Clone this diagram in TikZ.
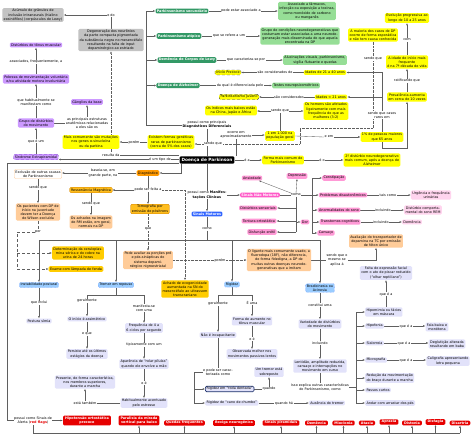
\documentclass[tikz,border=0pt]{standalone}
\usepackage{fontspec}
\setmainfont{DejaVu Sans}
\usetikzlibrary{arrows.meta,backgrounds}
\pgfdeclarelayer{bgfill}
\pgfsetlayers{bgfill,background,main}
\newcommand\cmfs{\fontsize{3.4}{4.15}\selectfont}
\definecolor{cgray}{RGB}{195,195,195}
\definecolor{cpurple}{RGB}{204,153,255}
\definecolor{cpurd}{RGB}{120,60,200}
\definecolor{cdgreen}{RGB}{51,153,102}
\definecolor{clgreen}{RGB}{150,222,150}
\definecolor{cyellow}{RGB}{255,255,0}
\definecolor{corange}{RGB}{255,153,0}
\definecolor{camber}{RGB}{255,190,30}
\definecolor{cgold}{RGB}{255,204,0}
\definecolor{cpeach}{RGB}{255,204,153}
\definecolor{cmagenta}{RGB}{255,90,200}
\definecolor{cpink}{RGB}{255,153,214}
\definecolor{clpink}{RGB}{255,212,238}
\definecolor{cblue}{RGB}{51,102,255}
\definecolor{clblue}{RGB}{153,204,255}
\definecolor{clav}{RGB}{226,226,250}
\definecolor{cred}{RGB}{230,0,0}
\definecolor{cline}{RGB}{95,95,95}
\begin{document}
\begin{tikzpicture}[x=1pt,y=-1pt,
 nd/.style={rounded corners=1.3pt, inner xsep=1.3pt, inner ysep=1.1pt, align=center, font=\cmfs},
 lbl/.style={fill=white, inner sep=0.4pt, align=center, font=\cmfs},
 gr/.style={nd, fill=cgray},
 pu/.style={nd, fill=cpurple},
 pud/.style={pu, draw=cpurd, densely dashed, line width=0.3pt},
 dg/.style={nd, fill=cdgreen, text=white, font=\cmfs\bfseries},
 lg/.style={nd, fill=clgreen},
 ye/.style={nd, fill=cyellow},
 yed/.style={ye, draw=black!75, densely dashed, line width=0.3pt},
 blk/.style={nd, fill=black, text=white, font=\fontsize{4.3}{5}\selectfont\bfseries, inner xsep=2pt, inner ysep=1.6pt},
 or1/.style={nd, fill=corange},
 or2/.style={nd, fill=camber, draw=corange!80!black, line width=0.25pt},
 go/.style={nd, fill=cgold},
 pe/.style={nd, fill=cpeach},
 wh/.style={nd, fill=white, draw=cpeach, line width=0.3pt},
 pm/.style={nd, fill=cmagenta, text=white, font=\cmfs\bfseries},
 pk/.style={nd, fill=cpink},
 lp/.style={nd, fill=clpink},
 bm/.style={nd, fill=cblue, text=white, font=\cmfs\bfseries},
 lb/.style={nd, fill=clblue, draw=cblue!80, densely dotted, line width=0.35pt},
 lv/.style={nd, fill=clav},
 lvb/.style={nd, fill=clav, draw=cblue!40!black, line width=0.6pt},
 rd/.style={nd, fill=cred, text=white, font=\cmfs\bfseries, inner xsep=2pt},
 cnx/.style={draw=cline, line width=0.35pt},
 arw/.style={cnx, -{Latex[length=2.2pt,width=1.8pt]}},
]
\useasboundingbox (0,0) rectangle (474,436);
\begin{pgfonlayer}{bgfill}
\fill[white] (0,0) rectangle (474,436);
\end{pgfonlayer}

% ---------- top left ----------
\node[gr] (acum) at (33,15) {Acúmulo de grânulos de\\inclusão intraneurais (hialino\\eosinófilos) (corpúsculos de Lewy)};
\node[gr] (deg) at (111,40) {Degeneração dos neurônios\\da parte compacta pigmentada\\da substância negra no mesencéfalo\\resultando na falta de input\\dopaminérgico ao estriado};
\node[lbl] (l_edo) at (111,15) {e do};
\node[pu] (tonus) at (36,45) {Distúrbios do tônus muscular};
\node[lbl] (l_assoc) at (36,62) {associados, frequentemente, a};
\node[pu] (pobreza) at (36,79) {Pobreza de movimentação voluntária\\e/ou atividade motora involuntária};
\node[lbl] (l_habit) at (36,102) {que habitualmente se\\manifestam como};
\node[pu] (ganglios) at (87,102) {Gânglios da base};
\node[pu] (grupo) at (36,123) {Grupo de distúrbios\\do movimento};
\node[lbl] (l_estrut) at (87,123) {as principais estruturas\\anatômicas relacionadas\\a eles são os};
\node[lbl] (l_queeum) at (36,141) {que é um};
\node[pud] (sindrome) at (36,157) {Síndrome Extrapiramidal};
\node[ye] (mutacoes) at (91,142) {Mais comumente são mutações\\nos genes α-sinucleína\\ou da parkina};
\node[lbl] (l_porem1) at (134,142) {porém};
\node[ye] (formas) at (171,142) {Existem formas genéticas\\raras de parkinsonismo\\(cerca de 5\% dos casos)};
\node[lbl] (l_resulta) at (111,155) {resulta da};
\node[lbl] (l_etipo) at (160,159.5) {é um tipo de};

% ---------- green column ----------
\node[dg] (psec) at (182,11) {Parkinsonismo secundário};
\node[lbl] (l_psec) at (241,11) {pode estar associado a};
\node[lg] (psec2) at (307,11) {Associado a fármacos,\\infecção ou exposição a toxinas,\\como monóxido de carbono\\ou manganês};
\node[dg] (patip) at (179,36) {Parkinsonismo atípico};
\node[lbl] (l_patip) at (229,36) {que se refere a um};
\node[lg] (patip2) at (300,36) {Grupo de condições neurodegenerativas que\\costumam estar associadas a uma neurode-\\generação mais disseminada do que aquela\\encontrada na DP};
\node[dg] (dcl) at (187,60) {Demência de Corpos de Lewy};
\node[lbl] (l_dcl) at (246,60) {que caracteriza-se por};
\node[lg] (dcl2) at (315,60) {Alucinações visuais, parkinsonismo,\\vigília flutuante e quedas};
\node[yed] (precoce) at (228,72.5) {Início Precoce};
\node[lbl] (l_prec) at (275,72.5) {são considerados de};
\node[ye] (id2140) at (325,72.5) {Idades de 21 a 40 anos};
\node[dg] (alz) at (178,85.5) {Doença de Alzheimer};
\node[lbl] (l_alz) at (240,85.5) {da qual é diferenciada pelo};
\node[lg] (alz2) at (296,85.5) {Testes neuropsicométricos};
\node[yed] (juvenil) at (239,97) {Parkinsonismo Juvenil};
\node[lbl] (l_juv) at (289,97) {são considerados};
\node[ye] (id21) at (331,97) {Idades < 21 anos};

% ---------- right top ----------
\node[ye] (evol) at (407,18) {Evolução progressiva ao\\longo de 10 a 25 anos};
\node[lbl] (l_com) at (407,40) {com};
\node[ye] (idade) at (407,62) {A idade de início mais\\frequente\\é na 7ª década de vida};
\node[lbl] (l_ratif) at (407,81) {ratificando que};
\node[ye] (preval) at (407,97) {Prevalência aumenta\\em cerca de 10 vezes};
\node[ye] (maioria) at (373,35) {A maioria dos casos de DP\\ocorre de forma esporádica\\e não tem causa conhecida};
\node[lbl] (l_sq1) at (373,59) {sendo que};
\node[lbl] (l_raros) at (382,115) {sendo que casos\\raros em};
\node[ye] (indices) at (231,110.5) {Os índices mais baixos estão\\na China, Japão e África};
\node[lbl] (l_sq2) at (280,111) {sendo que};
\node[ye] (homens) at (326,111) {Os homens são afetados\\ligeiramente com mais\\frequência do que as\\mulheres (3:2)};
\node[ye] (um1000) at (280,136) {1 em 1.000 na\\população geral};
\node[lbl] (l_ocorre) at (236,135) {ocorre em\\aproximadamente};
\node[lbl] (l_sq3) at (213,144) {sendo que};
\node[lbl] (l_eem) at (329,137) {e em};
\node[ye] (pct) at (382,137) {1\% de pessoas maiores\\que 65 anos};
\node[lbl] (l_diagdif) at (207,125) {possui como principais\\\textbf{Diagnósticos Diferenciais}};
\node[blk] (dp) at (207,160) {Doença de Parkinson};
\node[lbl] (l_ea) at (247,160) {é a};
\node[ye] (forma) at (283,160) {Forma mais comum de\\Parkinsonismo};
\node[lbl] (l_eo) at (322,160) {é o};
\node[ye] (seg) at (372,160) {2º distúrbio neurodegenerativo\\mais comum, após a doença de\\Alzheimer};

% ---------- diagnosis ----------
\node[or1] (diag) at (148,173) {Diagnóstico};
\node[lbl] (l_baseia) at (103,173) {baseia-se, em\\grande parte, na};
\node[wh] (exclusao) at (38,174) {Exclusão de outras causas\\de Parkinsonismo};
\node[lbl] (l_sq4) at (38,188) {sendo que};
\node[pe] (pacientes) at (38,212) {Os pacientes com DP de\\início na juventude\\devem ter a Doença\\de Wilson excluída};
\node[lbl] (l_por) at (38,232) {por};
\node[go] (ceru) at (78,253) {Determinação da ceruloplas-\\mina sérica e do cobre na\\urina de 24 horas};
\node[go] (lampada) at (76,269) {Exame com lâmpada de fenda};
\node[or2] (rm) at (91,190) {Ressonância Magnética};
\node[lbl] (l_pode) at (148,190) {pode ser feita a};
\node[lbl] (l_sq5) at (91,204) {sendo que};
\node[pe] (achados) at (91,222) {Os achados na imagem\\de RM estão, em geral,\\normais na DP};
\node[or2] (tomo) at (150,209) {Tomografia por\\emissão de pósitrons};
\node[lbl] (l_que) at (148,229) {que};
\node[pe] (avaliar) at (148,260) {Pode avaliar as porções pré\\e pós-sinápticas do\\sistema dopami-\\nérgico nigroestriatal};
\node[lbl] (l_porem2) at (220,260) {porém};
\node[pe] (ligante) at (279,260) {O ligante mais comumente usado, a\\fluorodopa (18F), não diferencia,\\de forma fidedigna, a DP de\\muitas outras doenças neurode-\\generativas que a imitam};
\node[lbl] (l_mesmo) at (337,260) {sendo que o\\mesmo se\\aplica à};
\node[pe] (spect) at (376,241) {Avaliação do transportador de\\dopamina na TC por emissão\\de fóton único};
\node[go] (eco) at (185,289) {Achado de ecogenicidade\\aumentada na SN do\\mesencéfalo ao ultrassom\\transcraniano};

% ---------- clinical ----------
\node[lbl] (l_manif) at (207,195) {possui como \textbf{Manifes-}\\\textbf{tações Clínicas}};
\node[pm] (pnm) at (260,195) {Sinais Não Motores};
\node[bm] (sm) at (207,214) {Sinais Motores};
\node[lbl] (l_como1) at (296,195) {como};
\node[pk] (ansiedade) at (252,178) {Ansiedade};
\node[pk] (depressao) at (297,176) {Depressão};
\node[pk] (sensoriais) at (258,208) {Distúrbios sensoriais};
\node[pk] (tontura) at (259,221) {Tontura ortostática};
\node[pk] (disfuncao) at (262,232) {Disfunção erétil};
\node[pk] (dor) at (305,222) {Dor};
\node[pk] (constip) at (334,178) {Constipação};
\node[pk] (disauto) at (343,195) {Problemas disautonômicos};
\node[lbl] (l_tais) at (388,195) {tais como};
\node[lp] (urg) at (431,195) {Urgência e frequência\\urinárias};
\node[pk] (sono) at (339,210) {Anormalidades do sono};
\node[lbl] (l_incl1) at (383,210) {incluindo};
\node[lp] (rem) at (423,210) {Distúrbio comporta-\\mental do sono REM};
\node[pk] (cogn) at (340,222) {Transtornos cognitivos};
\node[lbl] (l_incl2) at (381,222) {incluindo};
\node[lp] (dem) at (412,222) {Demência};
\node[pk] (cansaco) at (326,233) {Cansaço};

\node[lbl] (l_como2) at (207,229) {como};
\node[lb] (inst) at (39,285) {Instabilidade postural};
\node[lb] (tremor) at (116,285) {Tremor em repouso};
\node[lb] (rig) at (232,284.5) {Rigidez};
\node[lb] (brad) at (320,288) {Bradicinesia ou\\Acinesia};

\node[lbl] (l_inclui) at (39,303) {que inclui};
\node[lv] (simia) at (39,321) {Postura símia};

\node[lbl] (l_geral1) at (87,301) {geralmente};
\node[lv] (assim) at (87,319) {O início é assimétrico};
\node[lbl] (l_manif2) at (144,308) {manifesta-se\\com uma};
\node[lv] (freq) at (144,328) {Frequência de 4 a\\6 ciclos por segundo};
\node[lbl] (l_eque) at (87,334) {e que};
\node[lv] (persiste) at (87,354) {Persiste até os últimos\\estágios da doença};
\node[lbl] (l_tipic) at (144,345) {tipicamente com um};
\node[lv] (rolar) at (144,364) {Aparência de “rolar pílulas”\\quando ele envolve a mão};
\node[lbl] (l_ee) at (144,383) {e é};
\node[lv] (habit) at (144,403) {Habitualmente acentuado\\pelo estresse};
\node[lbl] (l_tamb) at (85,403) {está também};
\node[lv] (presente) at (85,382) {Presente, de forma característica,\\nos membros superiores,\\durante a marcha};

\node[lbl] (l_geral2) at (218,304) {geralmente};
\node[lv] (incap) at (218,335) {Não é incapacitante};
\node[lbl] (l_euma) at (252,303) {É uma};
\node[lv] (tonus2) at (252,321) {Forma de aumento no\\tônus muscular};
\node[lbl] (l_ee2) at (252,339) {e é};
\node[lv] (observ) at (252,354) {Observada melhor nos\\movimentos passivos lentos};
\node[lbl] (l_carac) at (218,372) {e pode ser carac-\\terizada como};
\node[lvb, anchor=west] (dentada) at (205,389) {Rigidez em “roda dentada”};
\node[lv, anchor=west] (chumbo) at (205,403) {Rigidez de “cano de chumbo”};
\node[lbl] (l_quando) at (269,389) {quando};
\node[lv] (sobrep) at (269,372) {Um tremor está\\sobreposto};
\node[lbl] (l_quandoha) at (284,403) {quando há};
\node[lv] (ausencia) at (327,403) {Ausência do tremor};

\node[lbl] (l_const) at (320,305) {constitui uma};
\node[lv] (variedade) at (320,324) {Variedade de distúrbios\\do movimento};
\node[lbl] (l_incl3) at (320,343) {incluindo};
\node[lv] (lentidao) at (320,366) {Lentidão, amplitude reduzida,\\cansaço e interrupções no\\movimento em curso};
\node[lbl] (l_isso) at (320,387) {Isso explica outras características\\do Parkinsonismo, como};

\node[lv, anchor=west] (hipom) at (365,312) {Hipomimia ou fácies\\em máscara};
\node[lbl] (l_quea1) at (386,294) {que é a};
\node[lv] (falta) at (386,273) {Falta de expressão facial\\com o ato de piscar reduzido\\(“olhar reptiliano”)};
\node[lv, anchor=west] (hipof) at (365,326) {Hipofonia};
\node[lbl] (l_quea2) at (406,326) {que é a};
\node[lv] (fala) at (437,327) {Fala baixa e\\monótona};
\node[lv, anchor=west] (sial) at (365,343) {Sialorreia};
\node[lbl] (l_quea3) at (404,343) {que é a};
\node[lv] (deglut) at (447,344) {Deglutição alterada\\resultando em baba};
\node[lv, anchor=west] (micro) at (365,360) {Micrografia};
\node[lbl] (l_quea4) at (406,360) {que é a};
\node[lv] (calig) at (448,361) {Caligrafia apresentando\\letra pequena};
\node[lv, anchor=west] (reducao) at (365,378) {Redução da movimentação\\do braço durante a marcha};
\node[lv, anchor=west] (passos) at (365,390) {Passos curtos};
\node[lv, anchor=west] (andar) at (365,403) {Andar com arrastar dos pés};

% ---------- red flags ----------
\node[lbl] (l_alerta) at (33,420.5) {possui como Sinais de\\Alerta (\textcolor{cred}{\textbf{red flags}})};
\node[rd] (red1) at (87,420.5) {Hipotensão ortostática\\precoce};
\node[rd] (red2) at (139,420.5) {Paralisia da mirada\\vertical para baixo};
\node[rd] (red3) at (184.5,423) {Quedas frequentes};
\node[rd] (red4) at (234,423) {Bexiga neurogênica};
\node[rd] (red5) at (281,423) {Sinais piramidais};
\node[rd] (red6) at (316.5,423) {Demência};
\node[rd] (red7) at (343.5,423) {Mioclonia};
\node[rd] (red8) at (367,423) {Ataxia};
\node[rd] (red9) at (389,422) {Apraxia};
\node[rd] (red10) at (412,423) {Distonia};
\node[rd] (red11) at (435.5,422) {Disfagia};
\node[rd] (red12) at (460,423) {Disartria};

% ================= connectors =================
\begin{scope}[on background layer]
\draw[cnx] (deg.north) -- (l_edo.south);
\draw[arw] (l_edo.west) -- (l_edo.west -| acum.east);
\draw[cnx] (l_resulta.east) -- (l_resulta.east -| dp.west);
\draw[arw, densely dotted] (l_resulta.north) -- (deg.south);
\draw[cnx] (l_etipo.east) -- (l_etipo.east -| dp.west);
\draw[arw] (l_etipo.west) -- (l_etipo.west -| sindrome.east);
\draw[cnx] (sindrome.north) -- (l_queeum.south);
\draw[arw] (l_queeum.north) -- (grupo.south);
\draw[cnx] (grupo.east) -- (l_estrut.west);
\draw[arw] (l_estrut.north) -- (ganglios.south);
\draw[cnx] (grupo.north) -- (l_habit.south);
\draw[arw] (l_habit.north) -- (pobreza.south);
\draw[cnx] (pobreza.north) -- (l_assoc.south);
\draw[arw] (l_assoc.north) -- (tonus.south);
\draw[cnx] (formas.west) -- (l_porem1.east);
\draw[arw] (l_porem1.west) -- (l_porem1.west -| mutacoes.east);

\coordinate (tk) at (146,125);
\draw[cnx] (dp.north) -- (l_diagdif.south);
\draw[cnx] (l_diagdif.west) -- (tk) -- (tk |- psec.west);
\foreach \n in {psec,patip,dcl,alz} \draw[arw] (tk |- \n.west) -- (\n.west);
\draw[cnx] (psec.east) -- (l_psec.west);
\draw[arw] (l_psec.east) -- (l_psec.east -| psec2.west);
\draw[cnx] (patip.east) -- (l_patip.west);
\draw[arw] (l_patip.east) -- (l_patip.east -| patip2.west);
\draw[cnx] (dcl.east) -- (l_dcl.west);
\draw[arw] (l_dcl.east) -- (l_dcl.east -| dcl2.west);
\draw[cnx] (alz.east) -- (l_alz.west);
\draw[arw] (l_alz.east) -- (l_alz.east -| alz2.west);
\draw[cnx] (id2140.west) -- (l_prec.east);
\draw[arw] (l_prec.west) -- (l_prec.west -| precoce.east);
\draw[cnx] (id21.west) -- (l_juv.east);
\draw[arw] (l_juv.west) -- (l_juv.west -| juvenil.east);

\draw[cnx] (preval.north) -- (l_ratif.south);
\draw[arw] (l_ratif.north) -- (idade.south);
\draw[cnx] (idade.north) -- (l_com.south);
\draw[arw] (l_com.north) -- (evol.south);
% 1% -> sendo que casos raros em -> idades
\draw[cnx] (pct.north -| l_raros) -- (l_raros.south);
\draw[cnx] (l_raros.north) -- (l_raros.north |- id2140.east);
\draw[arw] (l_raros.north |- id2140.east) -- (id2140.east);
\draw[arw] (l_raros.north |- id21.east) -- (id21.east);
% maioria -> sendo que -> formas geneticas (dotted)
\coordinate (dq) at (373,128);
\coordinate (dr) at (300,128);
\coordinate (ds) at (300,144);
\draw[cnx, densely dotted] (maioria.south) -- (l_sq1.north);
\draw[cnx, densely dotted] (l_sq1.south) -- (dq) -- (dr) -- (ds) -- (l_sq3.east);
\draw[arw, densely dotted] (l_sq3.west) -- (l_sq3.west -| formas.east);
\draw[arw] (pct.south) -- ++(0,6) -| (preval.south);

\draw[cnx] (um1000.north) -- (l_sq2.south);
\draw[arw] (l_sq2.west) -- (l_sq2.west -| indices.east);
\draw[arw] (l_sq2.east) -- (l_sq2.east -| homens.west);
\draw[cnx] (um1000.east) -- (l_eem.west);
\draw[arw] (l_eem.east) -- (l_eem.east -| pct.west);
\draw[cnx] (l_ea.west -| dp.east) -- (l_ea.west);
\draw[arw] (l_ea.east) -- (l_ea.east -| forma.west);
\draw[cnx] (forma.east) -- (l_eo.west);
\draw[arw] (l_eo.east) -- (l_eo.east -| seg.west);
\draw[cnx] (dp.north -| l_ocorre) -- (l_ocorre.south);
\draw[arw] (l_ocorre.east) -- (l_ocorre.east -| um1000.west);

% diagnosis
\draw[arw] ([xshift=2pt]dp.south west) |- (diag.east);
\draw[cnx] (diag.west) -- (l_baseia.east);
\draw[arw] (l_baseia.west) -- (l_baseia.west -| exclusao.east);
\draw[cnx] (exclusao.south) -- (l_sq4.north);
\draw[arw] (l_sq4.south) -- (pacientes.north);
\coordinate (pl) at (17,232);
\draw[cnx, densely dashed] (pacientes.south) -- (l_por.north);
\draw[cnx, densely dashed] (l_por.west) -- (pl) -- (pl |- lampada.west);
\draw[arw, densely dashed] (pl |- ceru.west) -- (ceru.west);
\draw[arw, densely dashed] (pl |- lampada.west) -- (lampada.west);
\draw[cnx] (diag.south) -- (l_pode.north);
\draw[arw] (l_pode.west) -- (l_pode.west -| rm.east);
\draw[arw] (l_pode.south) -- (l_pode.south |- tomo.north);
\draw[arw, densely dotted] (l_pode.east) -| (eco.north);
\draw[cnx] (rm.south) -- (l_sq5.north);
\draw[arw] (l_sq5.south) -- (achados.north);
\draw[cnx, densely dotted] (tomo.south -| l_que) -- (l_que.north);
\draw[arw, densely dotted] (l_que.south) -- (l_que.south |- avaliar.north);
\draw[cnx, densely dotted] (avaliar.east) -- (l_porem2.west);
\draw[arw, densely dotted] (l_porem2.east) -- (l_porem2.east -| ligante.west);
\draw[cnx] (ligante.east) -- (l_mesmo.west);
\draw[arw] (l_mesmo.east) -| (spect.south);

% clinical
\draw[cnx] (dp.south) -- (l_manif.north);
\draw[arw] (l_manif.south) -- (sm.north);
\draw[arw] (l_manif.east) -- (l_manif.east -| pnm.west);
\draw[cnx] (pnm.east) -- (l_como1.west);
\draw[arw] (l_como1) -- (ansiedade);
\draw[arw] (l_como1.north) -- (depressao.south);
\draw[cnx] (l_como1.south) -- (l_como1.south |- disfuncao.east);
\foreach \n in {sensoriais,tontura,disfuncao} \draw[arw] (l_como1.south |- \n.east) -- (\n.east);
\draw[arw] (l_como1.south |- dor.west) -- (dor.west);
\coordinate (hb) at (312,195);
\draw[cnx] (l_como1.east) -- (hb);
\draw[cnx] (hb |- constip.west) -- (hb |- cansaco.west);
\foreach \n in {constip,disauto,sono,cogn,cansaco} \draw[arw] (hb |- \n.west) -- (\n.west);
\draw[cnx] (disauto.east) -- (l_tais.west);
\draw[arw] (l_tais.east) -- (l_tais.east -| urg.west);
\draw[cnx] (sono.east) -- (l_incl1.west);
\draw[arw] (l_incl1.east) -- (l_incl1.east -| rem.west);
\draw[cnx] (cogn.east) -- (l_incl2.west);
\draw[arw] (l_incl2.east) -- (l_incl2.east -| dem.west);

\coordinate (tr) at (207,240);
\draw[cnx] (sm.south) -- (l_como2.north);
\draw[cnx] (l_como2.south) -- (tr);
\draw[cnx] (tr -| inst.north) -- (tr -| brad.north);
\foreach \n in {inst,tremor,rig,brad} \draw[arw] (tr -| \n.north) -- (\n.north);
\draw[cnx] (inst.south) -- (l_inclui.north);
\draw[arw] (l_inclui.south) -- (simia.north);

\coordinate (tb) at (116,295);
\draw[cnx] (tremor.south) -- (tb);
\draw[cnx] (tb -| l_geral1) -- (tb -| l_manif2);
\draw[cnx] (tb -| l_geral1) -- (l_geral1.north);
\draw[arw] (l_geral1.south) -- (assim.north);
\draw[cnx] (tb -| l_manif2) -- (l_manif2.north);
\draw[arw] (l_manif2.south) -- (freq.north);
\draw[cnx] (assim.south) -- (l_eque.north);
\draw[arw] (l_eque.south) -- (persiste.north);
\draw[cnx] (freq.south) -- (l_tipic.north);
\draw[arw] (l_tipic.south) -- (rolar.north);
\draw[cnx] (rolar.south) -- (l_ee.north);
\draw[arw] (l_ee.south) -- (habit.north);
\draw[cnx] (habit.west) -- (l_tamb.east);
\draw[arw] (l_tamb.north) -- (presente.south);

\coordinate (rb) at (232,295);
\draw[cnx] (rig.south) -- (rb);
\draw[cnx] (rb -| l_geral2) -- (rb -| l_euma);
\draw[cnx] (rb -| l_geral2) -- (l_geral2.north);
\draw[arw] (l_geral2.south) -- (incap.north);
\draw[cnx] (rb -| l_euma) -- (l_euma.north);
\draw[arw] (l_euma.south) -- (tonus2.north);
\draw[cnx] (tonus2.south) -- (l_ee2.north);
\draw[arw] (l_ee2.south) -- (observ.north);
\draw[cnx] (incap.south) -- (l_carac.north);
\coordinate (cb) at (194,372);
\draw[cnx] (l_carac.west) -- (cb) -- (cb |- chumbo.west);
\draw[arw] (cb |- dentada.west) -- (dentada.west);
\draw[arw] (cb |- chumbo.west) -- (chumbo.west);
\draw[cnx] (dentada.east) -- (l_quando.west);
\draw[arw] (l_quando.north) -- (sobrep.south);
\draw[cnx] (chumbo.east) -- (l_quandoha.west);
\draw[arw] (l_quandoha.east) -- (l_quandoha.east -| ausencia.west);

\draw[cnx] (brad.south) -- (l_const.north);
\draw[arw] (l_const.south) -- (variedade.north);
\draw[cnx] (variedade.south) -- (l_incl3.north);
\draw[arw] (l_incl3.south) -- (lentidao.north);
\draw[cnx] (lentidao.south) -- (l_isso.north);
\coordinate (vb) at (356,387);
\draw[cnx] (l_isso.east) -- (vb);
\draw[cnx] (vb |- hipom.west) -- (vb |- andar.west);
\foreach \n in {hipom,hipof,sial,micro,reducao,passos,andar} \draw[arw] (vb |- \n.west) -- (\n.west);
\draw[cnx] (hipom.north -| l_quea1) -- (l_quea1.south);
\draw[arw] (l_quea1.north) -- (falta.south);
\draw[cnx] (hipof.east) -- (l_quea2.west);
\draw[arw] (l_quea2.east) -- (l_quea2.east -| fala.west);
\draw[cnx] (sial.east) -- (l_quea3.west);
\draw[arw] (l_quea3.east) -- (l_quea3.east -| deglut.west);
\draw[cnx] (micro.east) -- (l_quea4.west);
\draw[arw] (l_quea4.east) -- (l_quea4.east -| calig.west);

% red flags frame
\coordinate (fr) at (7,163);
\draw[cnx] (dp.west |- fr) -- (fr) -- (fr |- l_alerta.west) -- (l_alerta.west);
\draw[arw] (l_alerta.east) -- (l_alerta.east -| red1.west);
\coordinate (bb) at (33,433);
\draw[cnx] (l_alerta.south) -- (bb) -- (bb -| red12.south);
\foreach \n in {red2,red3,red4,red5,red6,red7,red8,red9,red10,red11,red12} \draw[arw] (bb -| \n.south) -- (\n.south);
\end{scope}
\end{tikzpicture}
\end{document}
